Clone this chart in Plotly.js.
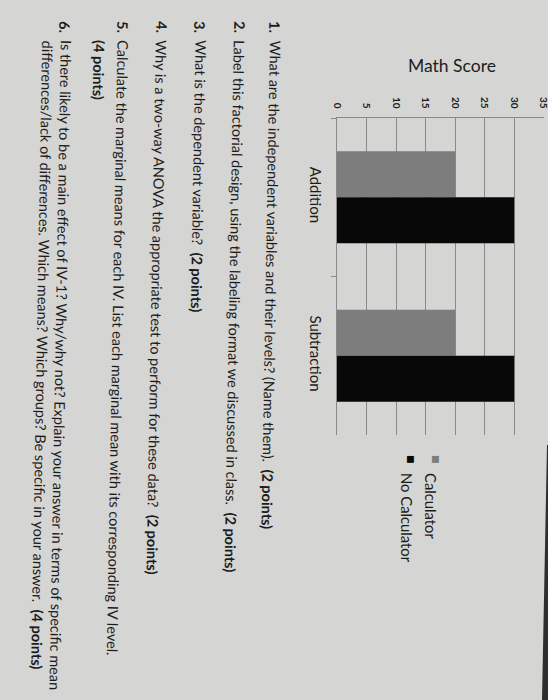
<!DOCTYPE html>
<html>
<head>
<meta charset="utf-8">
<script src="https://cdn.plot.ly/plotly-3.0.1.min.js"></script>
<style>
  html, body { margin: 0; padding: 0; background: #d5d5d3; }
  #plot { width: 548px; height: 700px; }
</style>
</head>
<body>
<div id="plot"></div>
<script>
// chart data (the photo shows the worksheet turned a quarter clockwise)
const categories = ["Addition", "Subtraction"];
const seriesNames = ["Calculator", "No Calculator"];
const calculatorScores = [20, 20];
const noCalculatorScores = [30, 30];
const seriesColors = ["#7d7d7d", "#080808"];
const scoreTicks = [0, 5, 10, 15, 20, 25, 30, 35];
const axisTitle = "Math Score";

// worksheet questions
const questionNumbers = ["1.", "2.", "3.", "4.", "5.", "6."];
const questionLines = [
  ["What are the independent variables and their levels? (Name them).  <b>(2 points)</b>"],
  ["Label this factorial design, using the labeling format we discussed in class.  <b>(2 points)</b>"],
  ["What is the dependent variable?  <b>(2 points)</b>"],
  ["Why is a two-way ANOVA the appropriate test to perform for these data?  <b>(2 points)</b>"],
  ["Calculate the marginal means for each IV. List each marginal mean with its corresponding IV level.",
   "<b>(4 points)</b>"],
  ["Is there likely to be a main effect of IV-1? Why/why not? Explain your answer in terms of specific mean",
   "differences/lack of differences. Which means? Which groups? Be specific in your answer.  <b>(4 points)</b>"],
];

const W = 548, H = 700;
const px = (x) => x / W;
const py = (y) => 1 - y / H;

const FONT = "Lato, 'Open Sans', sans-serif";
const INK = "#1c1c1c";
const GRID = "#8a8a8a";
const TILT = 91;
const Q_SIZE = 14.5;

// page positions of the question columns (x of number, x of each line)
const numberX = [275, 240, 200, 162, 123, 65];
const lineX = [[271], [235], [199], [157], [118, 99], [61, 42]];

function buildTraces() {
  const values = [calculatorScores, noCalculatorScores];
  return seriesNames.map((name, i) => ({
    type: "bar",
    orientation: "h",
    name: name,
    y: categories,
    x: values[i],
    marker: { color: seriesColors[i], line: { width: 0 } },
    hoverinfo: "skip",
  }));
}

function buildAnnotations() {
  const anns = [];

  anns.push({
    xref: "paper", yref: "paper",
    x: px(452), y: py(65),
    xanchor: "center", yanchor: "middle",
    text: axisTitle,
    showarrow: false,
    font: { family: FONT, size: 17.5, color: INK },
  });

  // legend, drawn turned like the rest of the page
  const legendX = [431, 407];
  const swatchX = [436, 411];
  seriesNames.forEach((name, i) => {
    anns.push({
      xref: "paper", yref: "paper",
      x: px(swatchX[i]), y: py(459),
      xanchor: "center", yanchor: "middle",
      text: "■",
      showarrow: false,
      textangle: 90,
      font: { family: "DejaVu Sans", size: 9, color: seriesColors[i] },
    });
    anns.push({
      xref: "paper", yref: "paper",
      x: px(legendX[i]), y: py(471),
      xanchor: "center", yanchor: "top",
      text: name,
      showarrow: false,
      textangle: 90,
      font: { family: FONT, size: 14.8, color: INK },
    });
  });

  questionNumbers.forEach((num, i) => {
    anns.push({
      xref: "paper", yref: "paper",
      x: px(numberX[i]), y: py(19),
      xanchor: "center", yanchor: "top",
      text: "<b>" + num + "</b>",
      showarrow: false,
      textangle: TILT,
      font: { family: FONT, size: Q_SIZE, color: INK },
    });
    questionLines[i].forEach((line, j) => {
      anns.push({
        xref: "paper", yref: "paper",
        x: px(lineX[i][j]), y: py(38),
        xanchor: "center", yanchor: "top",
        text: line,
        showarrow: false,
        textangle: TILT,
        font: { family: FONT, size: Q_SIZE, color: INK },
      });
    });
  });

  return anns;
}

function buildLayout() {
  return {
    width: W,
    height: H,
    margin: { l: 0, r: 0, t: 0, b: 0 },
    paper_bgcolor: "#d5d5d3",
    plot_bgcolor: "rgba(0,0,0,0)",
    showlegend: false,
    barmode: "group",
    bargap: 0.42,
    bargroupgap: 0,
    xaxis: {
      domain: [px(337), px(544)],
      range: [0, 35.05],
      side: "top",
      tickvals: scoreTicks,
      tickangle: 90,
      ticks: "",
      ticklabelstandoff: 5,
      ticklabeloverflow: "allow",
      tickfont: { family: FONT, size: 10, weight: 700, color: INK },
      showgrid: true,
      gridcolor: GRID,
      gridwidth: 1,
      showline: true,
      linecolor: GRID,
      zeroline: false,
      fixedrange: true,
    },
    yaxis: {
      domain: [py(435), py(118)],
      type: "category",
      categoryarray: categories,
      autorange: "reversed",
      showline: true,
      linecolor: GRID,
      ticks: "outside",
      tickson: "boundaries",
      ticklen: 5,
      tickcolor: GRID,
      tickangle: 90,
      ticklabelstandoff: 8,
      tickfont: { family: FONT, size: 15, color: INK },
      showgrid: false,
      fixedrange: true,
    },
    shapes: [
      {
        // dark edge of the photo
        type: "path",
        xref: "paper", yref: "paper",
        path: `M ${px(547)},${py(445)} L 1,${py(445)} L 1,0 L ${px(542)},0 Z`,
        fillcolor: "#2e2e2e",
        line: { width: 0 },
        layer: "above",
      },
    ],
    annotations: buildAnnotations(),
  };
}

Plotly.newPlot("plot", buildTraces(), buildLayout(), { staticPlot: true });
</script>
</body>
</html>
